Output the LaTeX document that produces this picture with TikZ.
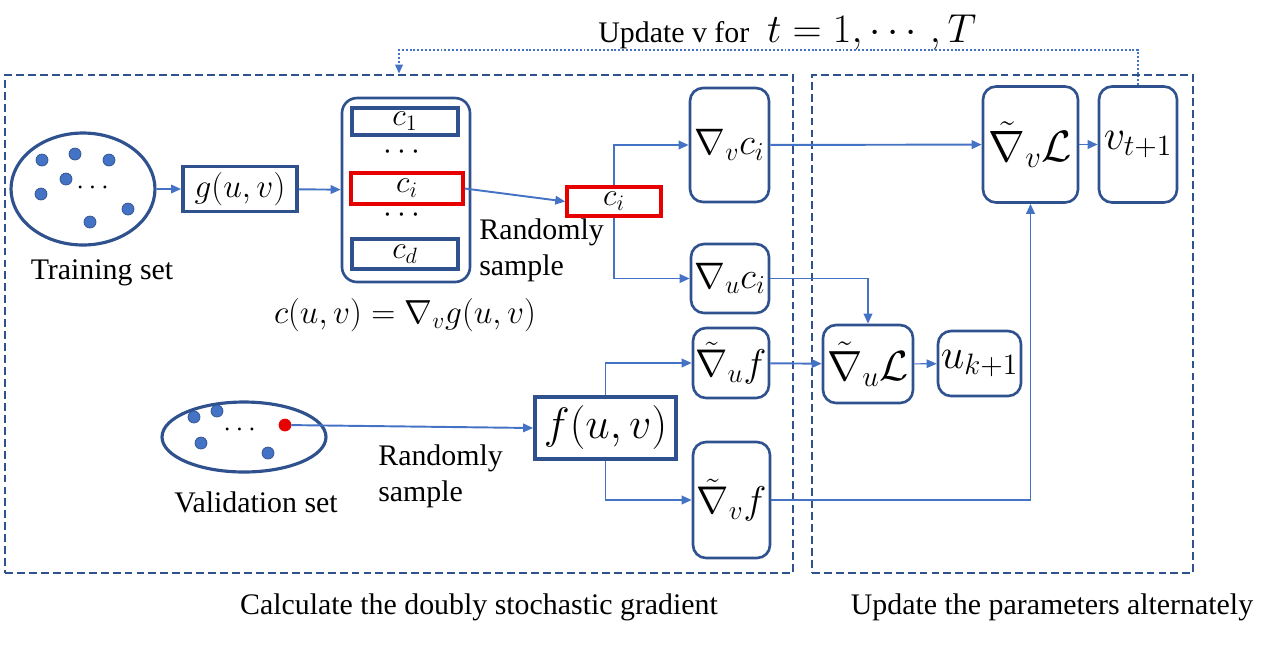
\documentclass[tikz,border=0pt]{standalone}
\usepackage{fix-cm}
\usepackage{amsmath}
\usepackage{fontspec}
\setmainfont{Liberation Serif}
\usetikzlibrary{shapes.geometric, arrows.meta, positioning}

\definecolor{boxblue}{RGB}{47,82,143}
\definecolor{arrblue}{RGB}{68,114,196}
\definecolor{selred}{RGB}{230,0,0}
\newcommand{\txtsize}{\fontsize{17}{20.5}\selectfont}
\newcommand{\mathsz}[1]{\fontsize{#1}{#1}\selectfont}

\begin{document}
\begin{tikzpicture}[
  x=0.02cm, y=-0.02cm,
  rbox/.style = {rectangle, draw=boxblue, line width=1.5pt, rounded corners=2.6mm, inner sep=0pt},
  sqbox/.style = {rectangle, draw=boxblue, line width=2.2pt, inner sep=0pt},
  redbox/.style = {rectangle, draw=selred, line width=2pt, inner sep=0pt},
  dataset/.style = {ellipse, draw=boxblue, line width=1.8pt, inner sep=0pt},
  pt/.style = {circle, fill=arrblue, draw=boxblue, line width=0.4pt, inner sep=0pt, minimum size=2.4mm},
  region/.style = {rectangle, draw=boxblue, line width=1.6pt, dash pattern=on 4.5pt off 2.3pt, inner sep=0pt},
  arr/.style = {-{Triangle[length=2mm,width=1.7mm]}, arrblue, line width=1.1pt},
  dotarr/.style = {-{Triangle[length=1.8mm,width=1.5mm]}, arrblue, line width=1pt, dash pattern=on 1.1pt off 1.1pt},
  lbl/.style = {font=\txtsize, inner sep=0pt}
]
  \useasboundingbox (0,0) rectangle (1280,647);

  % dashed regions
  \node[region, minimum width=15.76cm, minimum height=9.96cm] (calcreg) at (399,324) {};
  \node[region, minimum width=7.62cm, minimum height=9.96cm] (updreg) at (1002.5,324) {};

  % training set
  \node[dataset, minimum width=2.88cm, minimum height=2.24cm] (trainset) at (83,189) {};
  \node[pt] (tp1) at (42,160) {};
  \node[pt] (tp2) at (75,154) {};
  \node[pt] (tp3) at (109,160) {};
  \node[pt] (tp4) at (66,179) {};
  \node[pt] (tp5) at (41,194) {};
  \node[pt] (tp6) at (128,209) {};
  \node[pt] (tp7) at (90,222) {};
  \node[font=\mathsz{16}] (tdots) at (95,188) {$\cdots$};
  \node[lbl] (trainlbl) at (102,273) {Training set};

  \node[sqbox, minimum width=2.28cm, minimum height=0.9cm, font=\mathsz{19}] (gbox) at (240,189) {$g(u,v)$};

  % stack of c
  \node[rbox, rounded corners=3mm, minimum width=2.56cm, minimum height=3.68cm] (cstack) at (406,190) {};
  \node[sqbox, minimum width=2.12cm, minimum height=0.54cm, font=\mathsz{18}] (c1) at (405,121.5) {$c_1$};
  \node[font=\mathsz{18}] (cdots1) at (405,152) {$\cdots$};
  \node[redbox, minimum width=2.24cm, minimum height=0.62cm, font=\mathsz{18}] (ci) at (407,188.5) {$c_i$};
  \node[font=\mathsz{18}] (cdots2) at (405,215) {$\cdots$};
  \node[sqbox, minimum width=2.12cm, minimum height=0.6cm, font=\mathsz{18}] (cd) at (405,254) {$c_d$};
  \node[font=\mathsz{19}, inner sep=0pt] (cform) at (405,315) {$c(u,v) = \nabla_v g(u,v)$};
  \node[lbl, anchor=west, align=left] (rsamp1) at (479,250) {Randomly\\sample};

  \node[redbox, minimum width=1.88cm, minimum height=0.58cm, font=\mathsz{18}] (cisel) at (614,201.5) {$c_i$};

  % gradients of c
  \node[rbox, minimum width=1.58cm, minimum height=2.28cm, font=\mathsz{21}] (gvc) at (729.5,145) {$\nabla_v c_i$};
  \node[rbox, minimum width=1.56cm, minimum height=1.38cm, font=\mathsz{21}] (guc) at (730,278.5) {$\nabla_u c_i$};

  % validation set
  \node[dataset, minimum width=3.28cm, minimum height=1.4cm] (valset) at (244,437) {};
  \node[pt] (vp1) at (194,417) {};
  \node[pt] (vp2) at (217,411) {};
  \node[pt] (vp3) at (201,443) {};
  \node[pt] (vp4) at (268,453) {};
  \node[pt, fill=selred, draw=selred] (vsel) at (285,425) {};
  \node[font=\mathsz{16}] (vdots) at (242,430) {$\cdots$};
  \node[lbl] (vallbl) at (256,502) {Validation set};
  \node[lbl, anchor=west, align=left] (rsamp2) at (378,476) {Randomly\\sample};

  \node[sqbox, minimum width=2.82cm, minimum height=1.24cm, font=\mathsz{25}] (fbox) at (605.5,428) {$f(u,v)$};

  % gradients of f
  \node[rbox, minimum width=1.52cm, minimum height=1.4cm, font=\mathsz{22}] (guf) at (731,363) {$\tilde{\nabla}_u f$};
  \node[rbox, minimum width=1.54cm, minimum height=2.32cm, font=\mathsz{22}] (gvf) at (731.5,500) {$\tilde{\nabla}_v f$};

  % updates
  \node[rbox, minimum width=1.8cm, minimum height=1.56cm, font=\mathsz{24}] (gLu) at (868,364) {$\tilde{\nabla}_u \mathcal{L}$};
  \node[rbox, minimum width=1.66cm, minimum height=1.3cm, font=\mathsz{24}] (uk) at (979.5,363.5) {$u_{k+1}$};
  \node[rbox, minimum width=1.9cm, minimum height=2.32cm, font=\mathsz{25}] (gLv) at (1030.5,144.5) {$\tilde{\nabla}_v \mathcal{L}$};
  \node[rbox, minimum width=1.56cm, minimum height=2.32cm, font=\mathsz{24}] (vt) at (1138,144.5) {$v_{t+1}$};

  % labels
  \node[lbl, anchor=west] (updlbl) at (598,33) {Update v for\hspace{0.6em}{\mathsz{23}$t = 1, \cdots, T$}};
  \node[lbl] (calclbl) at (479,607) {Calculate the doubly stochastic gradient};
  \node[lbl] (updparlbl) at (1052,607) {Update the parameters alternately};

  % connectors
  \draw[arr] (trainset) -- (gbox);
  \draw[arr] (gbox) -- (cstack);
  \draw[arr] (ci.east) -- (cisel.west);
  \draw[arr] (cisel.north) |- (gvc.west);
  \draw[arr] (cisel.south) |- (guc.west);
  \draw[arr] (gvc) -- (gLv);
  \draw[arr] (gLv) -- (vt);
  \draw[arr] (guc.east) -| (gLu.north);
  \draw[arr] (vsel) -- (fbox.west);
  \draw[arr] (fbox.north) |- (guf.west);
  \draw[arr] (fbox.south) |- (gvf.west);
  \draw[arr] (guf) -- (gLu);
  \draw[arr, line width=0.6pt] (gLu) -- (uk);
  \draw[arr] (gvf.east) -| (gLv.south);
  \draw[dotarr] (vt.north) -- ++(0,-35) -| (calcreg.north);
\end{tikzpicture}
\end{document}
